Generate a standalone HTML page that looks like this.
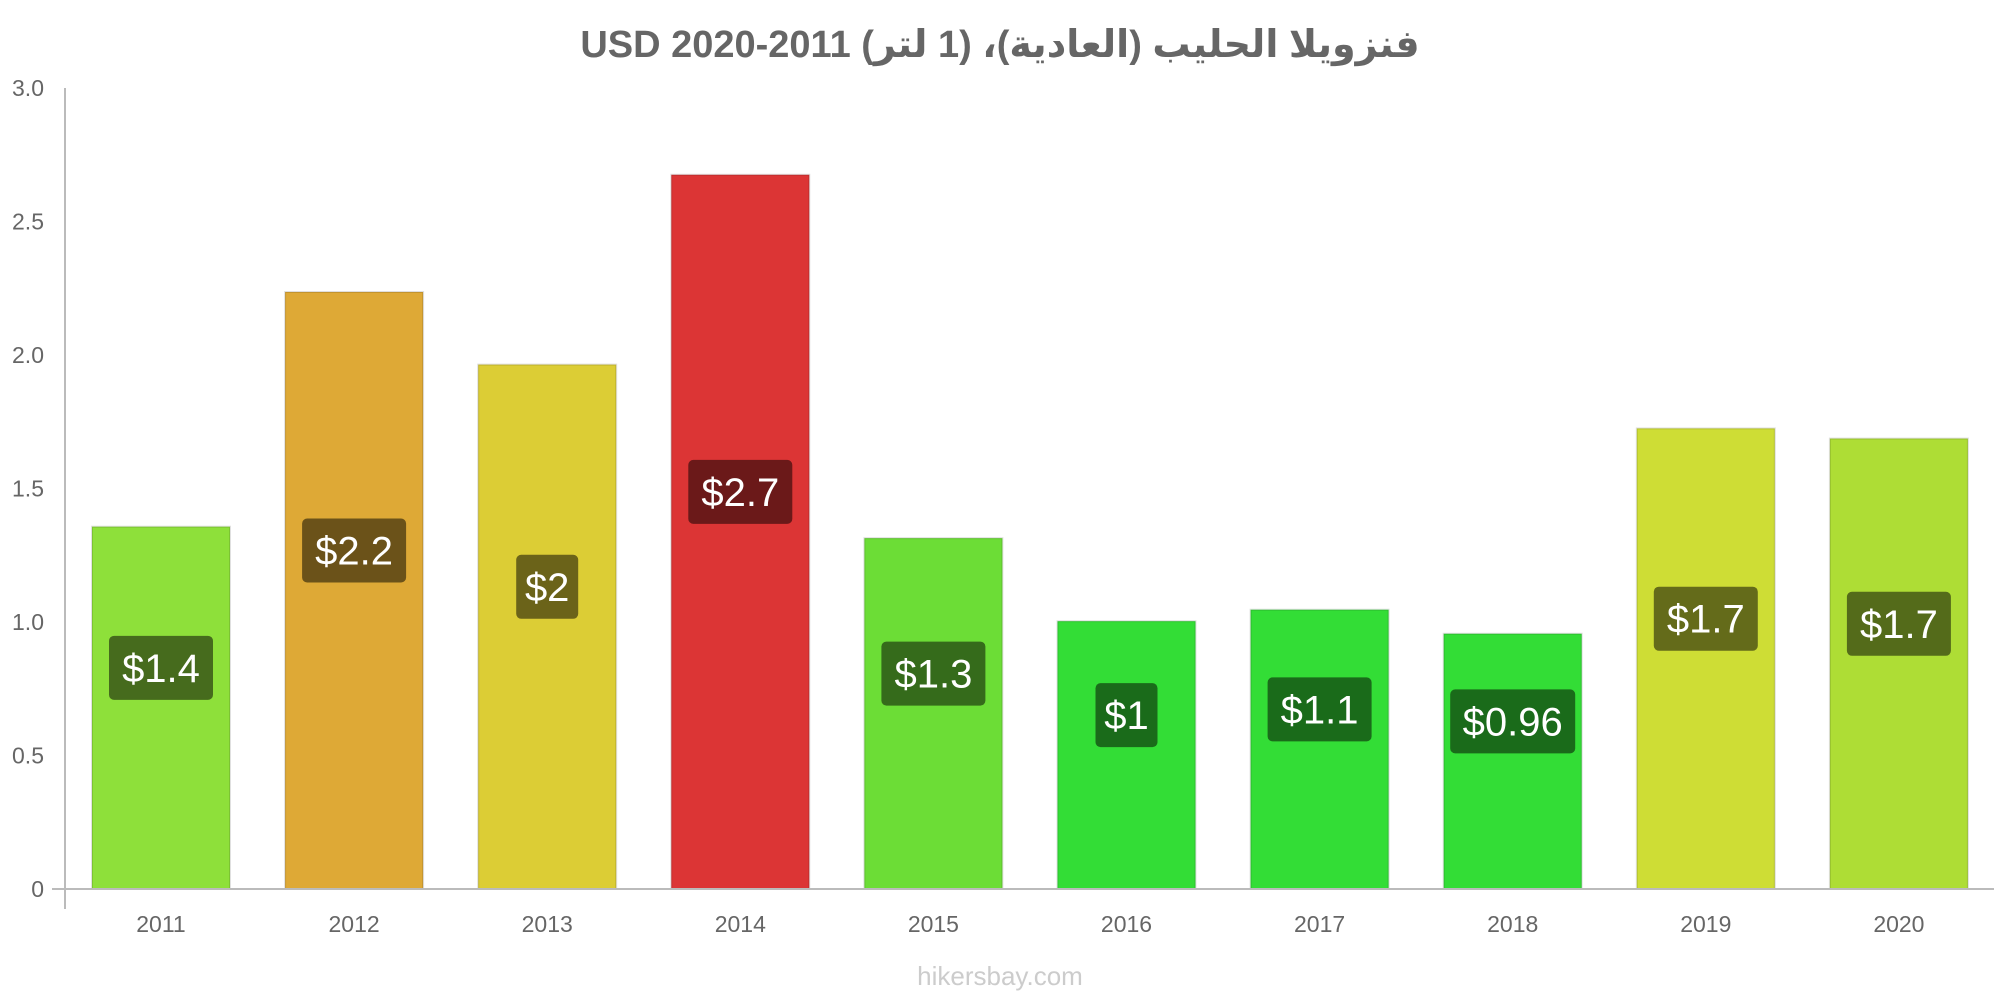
<!DOCTYPE html>
<html><head><meta charset="utf-8"><style>
body{margin:0;background:#fff;width:2000px;height:1000px;overflow:hidden;font-family:"Liberation Sans","DejaVu Sans",sans-serif}
</style></head><body>
<svg width="2000" height="1000" xmlns="http://www.w3.org/2000/svg">
<text x="1000" y="57" text-anchor="middle" direction="rtl" font-size="38" font-weight="bold" fill="#666" font-family="Liberation Sans, DejaVu Sans, sans-serif">فنزويلا الحليب (العادية)، (1 لتر) USD 2020-2011</text>
<g id="g"></g>
<text x="1000" y="985" text-anchor="middle" font-size="26" fill="#ccc">hikersbay.com</text>
</svg>
<script>
const years=["2011","2012","2013","2014","2015","2016","2017","2018","2019","2020"];
const values=[1.357,2.236,1.964,2.675,1.314,1.003,1.046,0.956,1.725,1.687];
const labels=["$1.4","$2.2","$2","$2.7","$1.3","$1","$1.1","$0.96","$1.7","$1.7"];
const yTicks=[0,0.5,1,1.5,2,2.5,3];
const yTickLabels=["0","0.5","1.0","1.5","2.0","2.5","3.0"];
const colors=["#8ee03a","#dea936","#dccd35","#dc3535","#6cdd36","#33dd36","#33dd36","#33dd36","#cedd35","#aedd35"];
const labelColors=["#466b1d","#6b5219","#6b6319","#6b1919","#356b1b","#1a6b1a","#1a6b1a","#1a6b1a","#646b1a","#546b1a"];
const NS="http://www.w3.org/2000/svg";
const g=document.getElementById('g');
const y=v=>889-v*(801/3);
const x=i=>161+i*193.1;
function mk(t,a){const e=document.createElementNS(NS,t);for(const k in a)e.setAttribute(k,a[k]);g.appendChild(e);return e;}
const ya=mk('line',{x1:65,y1:88,x2:65,y2:909,stroke:'#bbb','stroke-width':2});


yTicks.forEach((v,i)=>{const t=mk('text',{x:44,y:y(v)+8,'text-anchor':'end','font-size':23,fill:'#666'});t.textContent=yTickLabels[i];

});
years.forEach((yr,i)=>{
const cx=x(i),top=y(values[i]);
const r=mk('rect',{x:cx-69,y:top,width:138,height:889-top,fill:colors[i],stroke:'rgba(0,0,0,0.12)','stroke-width':2});


const ly=(top+889)/2-40;
const w=labels[i].length*21+20;
const b=mk('rect',{x:cx-w/2,y:ly-32,width:w,height:64,rx:5,fill:labelColors[i]});


const t=mk('text',{x:cx,y:ly+14,'text-anchor':'middle','font-size':40,fill:'#fff'});t.textContent=labels[i];


const xt=mk('text',{x:cx,y:932,'text-anchor':'middle','font-size':23,fill:'#666'});xt.textContent=yr;


});
const xa=mk('line',{x1:52,y1:889,x2:1994,y2:889,stroke:'#bbb','stroke-width':2});


</script>
</body></html>
